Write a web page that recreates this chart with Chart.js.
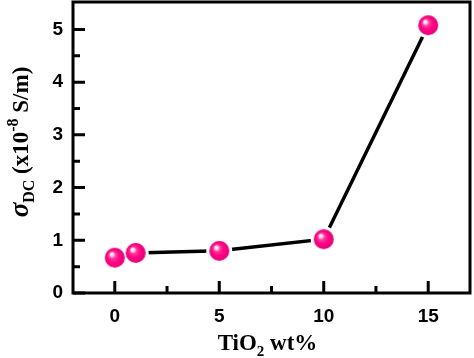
<!DOCTYPE html>
<html><head><meta charset="utf-8">
<script src="https://cdn.jsdelivr.net/npm/chart.js@4"></script>
<style>html,body{margin:0;padding:0;background:#fff}#wrap{width:474px;height:358px}</style>
</head><body><div id="wrap"><canvas id="c" width="474" height="358"></canvas></div>
<script>
const tio2Wt = [0, 1, 5, 10, 15];
const sigmaDC = [0.67, 0.76, 0.80, 1.02, 5.08];
const xTicks = [0, 5, 10, 15];
const xMinorTicks = [2.5, 7.5, 12.5];
const yTicks = [0, 1, 2, 3, 4, 5];
const yMinorTicks = [0.5, 1.5, 2.5, 3.5, 4.5];

const points = tio2Wt.map((x, i) => ({x: x, y: sigmaDC[i]}));

function makeSphere(r) {
  const s = 2 * r + 2;
  const c = document.createElement('canvas');
  c.width = s; c.height = s;
  const g = c.getContext('2d');
  const cx = s / 2, cy = s / 2;
  const grad = g.createRadialGradient(cx - r * 0.35, cy - r * 0.38, r * 0.04, cx, cy, r);
  grad.addColorStop(0, '#ffffff');
  grad.addColorStop(0.14, '#ffd0e8');
  grad.addColorStop(0.32, '#ff3a9c');
  grad.addColorStop(0.6, '#ff0585');
  grad.addColorStop(0.9, '#ee007c');
  grad.addColorStop(1, '#d80070');
  g.fillStyle = grad;
  g.beginPath(); g.arc(cx, cy, r, 0, Math.PI * 2); g.fill();
  return c;
}
const sphere = makeSphere(10);

function drawRuns(ctx, runs, x, y, rotate) {
  ctx.save();
  ctx.translate(x, y);
  if (rotate) ctx.rotate(-Math.PI / 2);
  let total = 0;
  runs.forEach(r => { ctx.font = r.font; total += ctx.measureText(r.text).width; });
  let px = -total / 2;
  ctx.fillStyle = '#000';
  ctx.textBaseline = 'alphabetic';
  ctx.textAlign = 'left';
  runs.forEach(r => {
    ctx.font = r.font;
    ctx.fillText(r.text, px, r.dy || 0);
    px += ctx.measureText(r.text).width;
  });
  ctx.restore();
}

const framePlugin = {
  id: 'frame',
  afterDraw(chart) {
    const ctx = chart.ctx, a = chart.chartArea;
    const xs = chart.scales.x, ys = chart.scales.y;
    ctx.save();
    ctx.strokeStyle = '#000';
    ctx.lineWidth = 3;
    ctx.lineCap = 'butt';
    ctx.beginPath();
    xTicks.forEach(v => { const p = xs.getPixelForValue(v); ctx.moveTo(p, a.bottom); ctx.lineTo(p, a.bottom - 12); });
    xMinorTicks.forEach(v => { const p = xs.getPixelForValue(v); ctx.moveTo(p, a.bottom); ctx.lineTo(p, a.bottom - 7); });
    yTicks.forEach(v => { const p = ys.getPixelForValue(v); ctx.moveTo(a.left, p); ctx.lineTo(a.left + 12, p); });
    yMinorTicks.forEach(v => { const p = ys.getPixelForValue(v); ctx.moveTo(a.left, p); ctx.lineTo(a.left + 7, p); });
    ctx.stroke();
    ctx.strokeRect(a.left, a.top, a.right - a.left, a.bottom - a.top);
    ctx.restore();

    const cx = (a.left + a.right) / 2;
    drawRuns(ctx, [
      {text: 'TiO', font: 'bold 23px "Liberation Serif"'},
      {text: '2', font: 'bold 15px "Liberation Serif"', dy: 6},
      {text: ' wt%', font: 'bold 23px "Liberation Serif"'}
    ], cx - 4, 350, false);

    drawRuns(ctx, [
      {text: 'σ', font: 'italic bold 27px "Liberation Serif"'},
      {text: 'DC', font: 'bold 16px "Liberation Serif"', dy: 6},
      {text: ' (x10', font: 'bold 23px "Liberation Serif"'},
      {text: '-8', font: 'bold 16px "Liberation Serif"', dy: -10},
      {text: ' S/m)', font: 'bold 23px "Liberation Serif"'}
    ], 28, 142, true);
  }
};

new Chart(document.getElementById('c'), {
  type: 'scatter',
  data: {
    datasets: [
      {
        data: points,
        showLine: false,
        pointStyle: sphere,
        pointRadius: 10,
        pointHoverRadius: 10,
        order: 0
      },
      {
        data: points,
        showLine: false,
        pointStyle: 'circle',
        pointRadius: 13,
        pointHoverRadius: 13,
        pointBackgroundColor: '#fff',
        pointBorderWidth: 0,
        order: 1
      },
      {
        data: points,
        showLine: true,
        borderColor: '#000',
        borderWidth: 3.5,
        pointRadius: 0,
        pointHoverRadius: 0,
        order: 2
      }
    ]
  },
  options: {
    responsive: false,
    animation: false,
    devicePixelRatio: 1,
    layout: {autoPadding: false, padding: {left: 0, right: 4, top: 2, bottom: 0}},
    plugins: {legend: {display: false}, tooltip: {enabled: false}},
    scales: {
      x: {
        type: 'linear',
        min: -2, max: 17,
        afterBuildTicks: s => { s.ticks = xTicks.map(v => ({value: v})); },
        afterFit: s => { s.height = 65; s.paddingLeft = 0; s.paddingRight = 0; },
        grid: {display: false, drawTicks: false},
        border: {display: false},
        ticks: {color: '#000', padding: 12, font: {family: '"Liberation Sans"', weight: 'bold', size: 19}}
      },
      y: {
        type: 'linear',
        min: 0, max: 5.52,
        afterBuildTicks: s => { s.ticks = yTicks.map(v => ({value: v})); },
        afterFit: s => { s.width = 73; s.paddingTop = 0; s.paddingBottom = 0; },
        grid: {display: false, drawTicks: false},
        border: {display: false},
        ticks: {color: '#000', padding: 10, font: {family: '"Liberation Sans"', weight: 'bold', size: 19}}
      }
    }
  },
  plugins: [framePlugin]
});
</script>
</body></html>
